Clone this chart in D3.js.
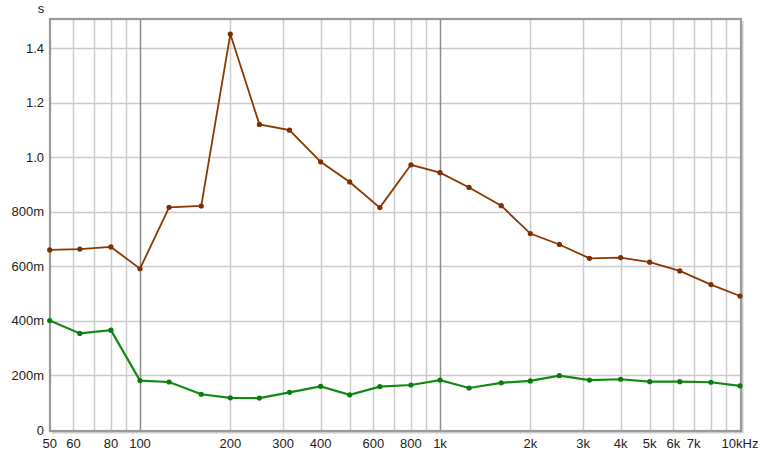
<!DOCTYPE html>
<html>
<head>
<meta charset="utf-8">
<script src="https://cdn.jsdelivr.net/npm/d3@7"></script>
<style>
body { margin: 0; background: #fff; }
text { font-family: "Liberation Sans", Arial, sans-serif; font-size: 13px; fill: #222; }
</style>
</head>
<body>
<div id="wrapper"></div>
<script>
// 1/3 octave centre frequencies
var freqs = [50, 63, 80, 100, 125, 160, 200, 250, 315, 400, 500, 630, 800, 1000,
             1250, 1600, 2000, 2500, 3150, 4000, 5000, 6300, 8000, 10000];
// reverb time, seconds
var brownVals = [0.660, 0.663, 0.671, 0.591, 0.816, 0.821, 1.451, 1.120, 1.099, 0.983, 0.909, 0.815,
                 0.972, 0.943, 0.889, 0.822, 0.720, 0.680, 0.629, 0.632, 0.615, 0.583, 0.533, 0.491];
var greenVals = [0.401, 0.354, 0.366, 0.181, 0.176, 0.131, 0.118, 0.117, 0.138, 0.160, 0.129, 0.159,
                 0.165, 0.183, 0.154, 0.173, 0.180, 0.199, 0.183, 0.186, 0.177, 0.177, 0.175, 0.162];

var gridFreqs = [60, 70, 80, 90, 100, 200, 300, 400, 500, 600, 700, 800, 900, 1000,
                 2000, 3000, 4000, 5000, 6000, 7000, 8000, 9000];
var xTickVals = [50, 60, 80, 100, 200, 300, 400, 600, 800, 1000, 2000, 3000, 4000, 5000, 6000, 7000, 10000];
var xTickText = ["50", "60", "80", "100", "200", "300", "400", "600", "800", "1k", "2k", "3k", "4k", "5k", "6k", "7k", "10kHz"];
var yTickVals = [0, 0.2, 0.4, 0.6, 0.8, 1.0, 1.2, 1.4];
var yTickText = ["0", "200m", "400m", "600m", "800m", "1.0", "1.2", "1.4"];

var width = 765, height = 456;
// plot box (note: "top" is taken by window.top, so use pTop etc.)
var pLeft = 50, pRight = 740, pTop = 19, pBottom = 430;

var svg = d3.select("#wrapper").append("svg")
    .attr("width", width)
    .attr("height", height);

var x = d3.scaleLog().domain([50, 10000]).range([49.7, 740]);
var y = d3.scaleLinear().domain([0, 1.4]).range([430, 48]);

// grid
svg.selectAll(".hgrid")
    .data(yTickVals.filter(function(d){ return d > 0; }))
    .enter().append("line")
    .attr("x1", pLeft).attr("x2", pRight)
    .attr("y1", function(d){ return Math.round(y(d)) + 0.5; })
    .attr("y2", function(d){ return Math.round(y(d)) + 0.5; })
    .attr("stroke", "#cccccc").attr("stroke-width", 1.5);

svg.selectAll(".vgrid")
    .data(gridFreqs)
    .enter().append("line")
    .attr("x1", function(d){ return Math.round(x(d)) + 0.5; })
    .attr("x2", function(d){ return Math.round(x(d)) + 0.5; })
    .attr("y1", pTop).attr("y2", pBottom)
    .attr("stroke", function(d){ return (d == 100 || d == 1000) ? "#8c8c8c" : "#cccccc"; })
    .attr("stroke-width", 1.5);

// frame with a little shadow
svg.append("line")
    .attr("x1", pRight + 2.5).attr("x2", pRight + 2.5)
    .attr("y1", pTop + 2).attr("y2", pBottom + 3)
    .attr("stroke", "#cfcfcf").attr("stroke-width", 2);
svg.append("line")
    .attr("x1", pLeft + 2).attr("x2", pRight + 3.5)
    .attr("y1", pBottom + 2.5).attr("y2", pBottom + 2.5)
    .attr("stroke", "#cfcfcf").attr("stroke-width", 2);
svg.append("rect")
    .attr("x", pLeft).attr("y", pTop)
    .attr("width", pRight - pLeft + 1).attr("height", pBottom - pTop + 1)
    .attr("fill", "none").attr("stroke", "#9a9a9a").attr("stroke-width", 2.2);

// labels
svg.selectAll(".ylab")
    .data(yTickVals)
    .enter().append("text")
    .attr("x", 44)
    .attr("y", function(d){ return y(d) + 4.5; })
    .attr("text-anchor", "end")
    .text(function(d, i){ return yTickText[i]; });

svg.append("text").attr("x", 41).attr("y", 13).attr("text-anchor", "middle").text("s");

svg.selectAll(".xlab")
    .data(xTickVals)
    .enter().append("text")
    .attr("x", function(d){ return x(d); })
    .attr("y", 448)
    .attr("text-anchor", "middle")
    .text(function(d, i){ return xTickText[i]; });

// curves
var line = d3.line()
    .x(function(d){ return x(d[0]); })
    .y(function(d){ return y(d[1]); });

function drawSeries(vals, color, dotColor, w) {
    var pts = freqs.map(function(f, i){ return [f, vals[i]]; });
    svg.append("path")
        .datum(pts)
        .attr("d", line)
        .attr("fill", "none")
        .attr("stroke", color)
        .attr("stroke-width", w);
    svg.selectAll(null)
        .data(pts)
        .enter().append("circle")
        .attr("cx", function(d){ return x(d[0]); })
        .attr("cy", function(d){ return y(d[1]); })
        .attr("r", 2.6)
        .attr("fill", dotColor);
}

drawSeries(greenVals, "#128a12", "#0c7a0c", 2.2);
drawSeries(brownVals, "#8a3800", "#7a3000", 1.8);
</script>
</body>
</html>
